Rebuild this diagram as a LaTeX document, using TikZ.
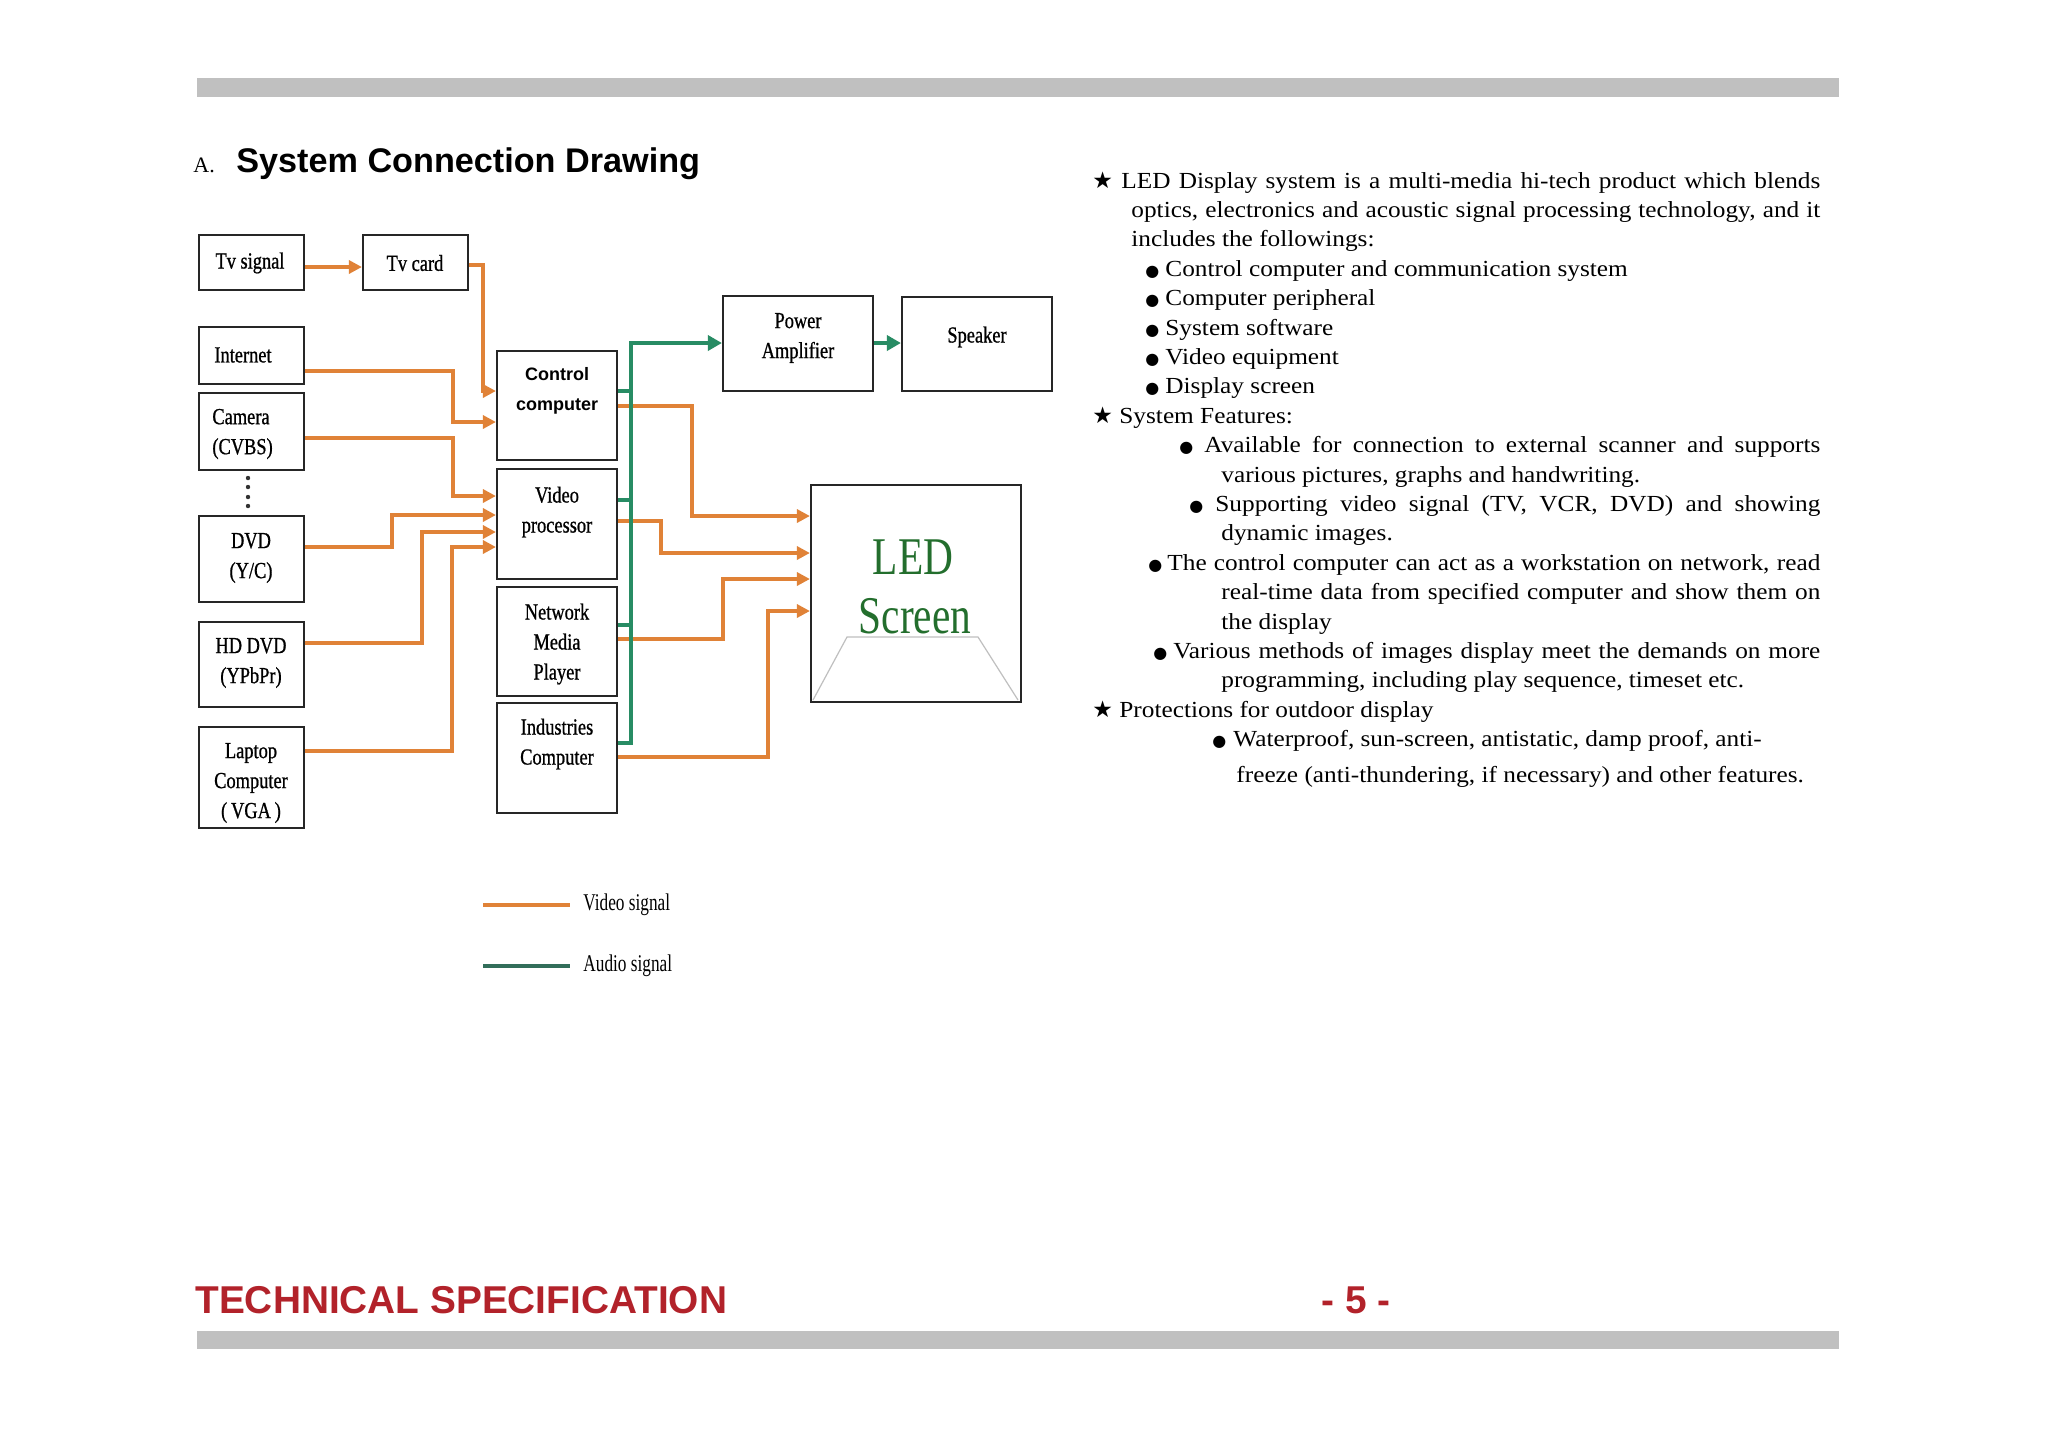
\documentclass[tikz,border=0pt]{standalone}
\usepackage{fontspec}
\setmainfont{Liberation Serif}
\newfontfamily\sansf{Liberation Sans}
\newfontfamily\bxf[FakeStretch=0.8,FakeBold=0.8]{Liberation Serif}
\newfontfamily\ledf[FakeStretch=0.78]{Liberation Serif}
\newfontfamily\lgf[FakeStretch=0.72]{Liberation Serif}
\newfontfamily\rtf[FakeStretch=1.1]{Liberation Serif}
\newfontfamily\symf{DejaVu Sans}
\usetikzlibrary{arrows.meta,fit}
\definecolor{vidc}{RGB}{224,130,55}
\definecolor{audc}{RGB}{40,140,100}
\definecolor{audl}{RGB}{50,110,90}
\definecolor{barc}{RGB}{192,192,192}
\definecolor{redc}{RGB}{178,34,42}
\definecolor{ledc}{RGB}{35,110,45}
\begin{document}
\begin{tikzpicture}[x=0.5pt,y=-0.5pt,
  box/.style={draw=black!85, line width=1.1pt, inner sep=0pt},
  btx/.style={inner sep=0pt, align=center, font=\bxf\fontsize{11.5}{15}\selectfont},
  ctx/.style={inner sep=0pt, align=center, font=\sansf\bfseries\fontsize{9}{15}\selectfont},
  vid/.style={draw=vidc, line width=2pt, -{Triangle[length=6.5pt,width=6.5pt]}},
  aud/.style={draw=audc, line width=2.4pt},
  audarr/.style={draw=audc, line width=2.4pt, -{Triangle[length=7pt,width=7.5pt]}},
  rt/.style={anchor=base west, inner sep=0pt, font=\rtf\fontsize{11.5}{13}\selectfont},
  star/.style={anchor=base west, inner sep=0pt, font=\symf\fontsize{11.5}{13}\selectfont},
  bul/.style={anchor=base west, inner sep=0pt, font=\symf\fontsize{8}{13}\selectfont},
  lgt/.style={anchor=west, inner sep=0pt, font=\lgf\fontsize{12}{14}\selectfont}]
\useasboundingbox (0,0) rectangle (2048,1447);
\fill[white] (0,0) rectangle (2048,1447);
% bars
\fill[barc] (197,78) rectangle (1839,97);
\fill[barc] (197,1331) rectangle (1839,1349);
% title
\node[anchor=base west, inner sep=0pt, font=\fontsize{11}{13}\selectfont] (ta) at (193,172) {A.};
\node[anchor=base west, inner sep=0pt, font=\sansf\bfseries\fontsize{17.1}{20}\selectfont] (tt) at (236,172) {System Connection Drawing};
% footer
\node[anchor=base west, inner sep=0pt, text=redc, font=\sansf\bfseries\fontsize{19.4}{22}\selectfont] (ft) at (195,1313) {TECHNICAL SPECIFICATION};
\node[anchor=base west, inner sep=0pt, text=redc, font=\sansf\bfseries\fontsize{19.4}{22}\selectfont] (fp) at (1321,1313) {- 5 -};
% boxes
\node[box, fit={(199,235) (304,290)}] (tvsig) {};
\node[box, fit={(363,235) (468,290)}] (tvcard) {};
\node[box, fit={(199,327) (304,384)}] (inet) {};
\node[box, fit={(199,393) (304,470)}] (cam) {};
\node[box, fit={(199,516) (304,602)}] (dvd) {};
\node[box, fit={(199,622) (304,707)}] (hddvd) {};
\node[box, fit={(199,727) (304,828)}] (lap) {};
\node[box, fit={(497,351) (617,460)}] (ctrl) {};
\node[box, fit={(497,469) (617,579)}] (vidp) {};
\node[box, fit={(497,587) (617,696)}] (nmp) {};
\node[box, fit={(497,703) (617,813)}] (indc) {};
\node[box, fit={(723,296) (873,391)}] (pamp) {};
\node[box, fit={(902,297) (1052,391)}] (spk) {};
\node[box, fit={(811,485) (1021,702)}] (led) {};
% box labels
\node[btx] (l1) at (250,263) {Tv signal};
\node[btx] (l2) at (415,263) {Tv card};
\node[btx] (l3) at (243,355) {Internet};
\node[btx, align=left, anchor=west] (l4) at (212,434) {Camera\\(CVBS)};
\node[btx] (l5) at (251,558) {DVD\\(Y/C)};
\node[btx] (l6) at (251,663) {HD DVD\\(YPbPr)};
\node[btx] (l7) at (251,783) {Laptop\\Computer\\(\,VGA\,)};
\node[ctx] (l8) at (557,391) {Control\\computer};
\node[btx] (l9) at (557,512) {Video\\processor};
\node[btx] (l10) at (557,644) {Network\\Media\\Player};
\node[btx] (l11) at (557,744) {Industries\\Computer};
\node[btx] (l12) at (798,338) {Power\\Amplifier};
\node[btx] (l13) at (977,337) {Speaker};
% dots
\foreach \yy [count=\i] in {478,487,497,506} \fill[black!80] (248,\yy) circle[radius=1.1pt];
% LED screen content
\draw[black!25, line width=0.6pt] (813,700) -- (847,637) -- (978,637) -- (1018,700);
\node[inner sep=0pt, anchor=base, text=ledc, font=\ledf\fontsize{26.5}{30}\selectfont] (ledt1) at (913,574) {LED};
\node[inner sep=0pt, anchor=base, text=ledc, font=\ledf\fontsize{26.5}{30}\selectfont] (ledt2) at (915,633) {Screen};
% video connectors
\draw[vid] (tvsig.east |- 0,267) -- (tvcard.west |- 0,267);
\draw[vid] (tvcard.east |- 0,265) -- (483,265) -- (483,391) -- (ctrl.west |- 0,391);
\draw[vid] (inet.east |- 0,371) -- (453,371) -- (453,422) -- (ctrl.west |- 0,422);
\draw[vid] (cam.east |- 0,438) -- (453,438) -- (453,496) -- (vidp.west |- 0,496);
\draw[vid] (dvd.east |- 0,547) -- (392,547) -- (392,515) -- (vidp.west |- 0,515);
\draw[vid] (hddvd.east |- 0,643) -- (422,643) -- (422,532) -- (vidp.west |- 0,532);
\draw[vid] (lap.east |- 0,751) -- (452,751) -- (452,547) -- (vidp.west |- 0,547);
\draw[vid] (ctrl.east |- 0,406) -- (692,406) -- (692,516) -- (led.west |- 0,516);
\draw[vid] (vidp.east |- 0,521) -- (661,521) -- (661,553) -- (led.west |- 0,553);
\draw[vid] (nmp.east |- 0,639) -- (723,639) -- (723,579) -- (led.west |- 0,579);
\draw[vid] (indc.east |- 0,757) -- (768,757) -- (768,611) -- (led.west |- 0,611);
% audio connectors
\draw[aud, line width=1.6pt] (ctrl.east |- 0,391) -- (631,391);
\draw[aud, line width=1.6pt] (vidp.east |- 0,500) -- (631,500);
\draw[aud, line width=1.6pt] (nmp.east |- 0,625) -- (631,625);
\draw[audarr] (indc.east |- 0,743) -- (631,743) -- (631,343) -- (pamp.west |- 0,343);
\draw[audarr] (pamp.east |- 0,343) -- (spk.west |- 0,343);
% legend
\coordinate (lv1) at (483,905); \coordinate (lv2) at (570,905);
\coordinate (la1) at (483,966); \coordinate (la2) at (570,966);
\draw[draw=vidc, line width=2pt] (lv1) -- (lv2);
\draw[draw=audl, line width=2pt] (la1) -- (la2);
\node[lgt] (lgv) at (583,905) {Video signal};
\node[lgt] (lga) at (583,966) {Audio signal};
% right text
\node[star] (s1) at (1092,188) {★};
\node[rt] (r1) at (1121,188) {\makebox[349.5pt][s]{LED Display system is a multi-media hi-tech product which blends}};
\node[rt] (r2) at (1131,217.4) {\makebox[344.5pt][s]{optics, electronics and acoustic signal processing technology, and it}};
\node[rt] (r3) at (1131,246.8) {includes the followings:};
\node[bul] (b4) at (1145,276.2) {●};
\node[rt] (r4) at (1165,276.2) {Control computer and communication system};
\node[bul] (b5) at (1145,305.6) {●};
\node[rt] (r5) at (1165,305.6) {Computer peripheral};
\node[bul] (b6) at (1145,335) {●};
\node[rt] (r6) at (1165,335) {System software};
\node[bul] (b7) at (1145,364.4) {●};
\node[rt] (r7) at (1165,364.4) {Video equipment};
\node[bul] (b8) at (1145,393.8) {●};
\node[rt] (r8) at (1165,393.8) {Display screen};
\node[star] (s9) at (1092,423.2) {★};
\node[rt] (r9) at (1119,423.2) {System Features:};
\node[bul] (b10) at (1179,452.6) {●};
\node[rt] (r10) at (1204,452.6) {\makebox[308pt][s]{Available for connection to external scanner and supports}};
\node[rt] (r11) at (1221,482) {various pictures, graphs and handwriting.};
\node[bul] (b12) at (1189,511.4) {●};
\node[rt] (r12) at (1215,511.4) {\makebox[302.5pt][s]{Supporting video signal (TV, VCR, DVD) and showing}};
\node[rt] (r13) at (1221,540.8) {dynamic images.};
\node[bul] (b14) at (1148,570.2) {●};
\node[rt] (r14) at (1167,570.2) {\makebox[326.5pt][s]{The control computer can act as a workstation on network, read}};
\node[rt] (r15) at (1221,599.6) {\makebox[299.5pt][s]{real-time data from specified computer and show them on}};
\node[rt] (r16) at (1221,629) {the display};
\node[bul] (b17) at (1153,658.4) {●};
\node[rt] (r17) at (1173,658.4) {\makebox[323.5pt][s]{Various methods of images display meet the demands on more}};
\node[rt] (r18) at (1221,687.8) {programming, including play sequence, timeset etc.};
\node[star] (s19) at (1092,717.2) {★};
\node[rt] (r19) at (1119,717.2) {Protections for outdoor display};
\node[bul] (b20) at (1212,746.6) {●};
\node[rt] (r20) at (1233,746.6) {Waterproof, sun-screen, antistatic, damp proof, anti-};
\node[rt] (r21) at (1236,782) {freeze (anti-thundering, if necessary) and other features.};
\end{tikzpicture}
\end{document}
